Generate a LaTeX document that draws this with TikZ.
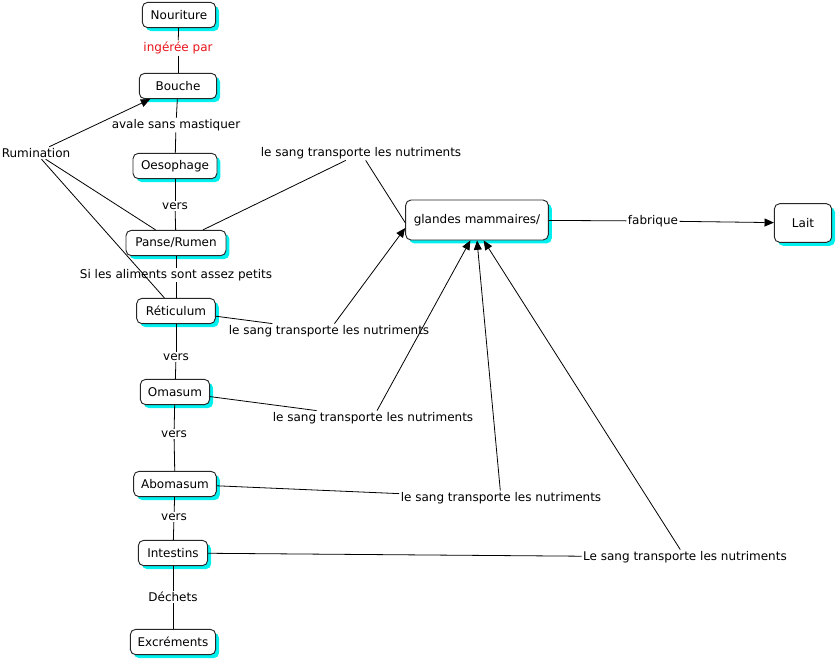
\documentclass[tikz,border=0pt]{standalone}
\usepackage{fontspec}
\setmainfont{DejaVu Sans}
\usepackage{xcolor}
\usepackage{tikz}
\usetikzlibrary{positioning,shadows,arrows.meta}
\definecolor{ShadowCyan}{HTML}{00F0F0}
\definecolor{LinkRed}{HTML}{E8141B}
\tikzset{
  concept/.style={draw=black!85,fill=white,rounded corners=4pt,line width=0.7pt,
    minimum height=19pt,inner xsep=5pt,
    font=\fontsize{9}{11}\selectfont,
    general shadow={fill=ShadowCyan,shadow xshift=2.6pt,shadow yshift=-2.6pt}},
  linkword/.style={fill=white,inner sep=1pt,font=\fontsize{9}{11}\selectfont},
  conn/.style={line width=0.6pt,draw=black},
  arr/.style={conn,-{Triangle[length=7pt,width=6pt]}},
}

\begin{document}
\begin{tikzpicture}[x=0.75pt,y=-0.75pt]
  \useasboundingbox (0,0) rectangle (839,661);
  % concepts
  \node[concept,minimum width=55pt] (nour) at (179,15) {Nouriture};
  \node[concept,minimum width=58pt] (bouche) at (178,86) {Bouche};
  \node[concept,minimum width=63pt] (oeso) at (175,166) {Oesophage};
  \node[concept,minimum width=75pt] (panse) at (176,243) {Panse/Rumen};
  \node[concept,minimum width=59pt] (reti) at (176,311) {Réticulum};
  \node[concept,minimum width=52pt] (omas) at (175,392) {Omasum};
  \node[concept,minimum width=62pt] (aboma) at (175,484) {Abomasum};
  \node[concept,minimum width=52pt] (intes) at (173,553) {Intestins};
  \node[concept,minimum width=64pt] (excr) at (173,642) {Excréments};
  \node[concept,minimum width=107pt,minimum height=30pt] (gland) at (477,220) {glandes mammaires/};
  \node[concept,minimum width=43pt,minimum height=29pt] (lait) at (803,223) {Lait};
  % linking phrases
  \node[linkword,text=LinkRed] (ingere) at (178,48) {ingérée par};
  \node[linkword] (avale) at (176,125) {avale sans mastiquer};
  \node[linkword] (vers1) at (175,206) {vers};
  \node[linkword] (petits) at (176,275) {Si les aliments sont assez petits};
  \node[linkword] (vers2) at (176,357) {vers};
  \node[linkword] (vers3) at (174,434) {vers};
  \node[linkword] (vers4) at (174,517) {vers};
  \node[linkword] (dechets) at (173,597) {Déchets};
  \node[linkword] (rumin) at (36,153) {Rumination};
  \node[linkword] (sang1) at (361,153) {le sang transporte les nutriments};
  \node[linkword] (sang2) at (329,331) {le sang transporte les nutriments};
  \node[linkword] (sang3) at (373,418) {le sang transporte les nutriments};
  \node[linkword] (sang4) at (501,498) {le sang transporte les nutriments};
  \node[linkword] (sang5) at (685,557) {Le sang transporte les nutriments};
  \node[linkword] (fabr) at (653,221) {fabrique};
  % digestive chain
  \draw[conn] (nour) -- (ingere);
  \draw[conn] (ingere) -- (bouche);
  \draw[conn] (bouche) -- (avale);
  \draw[conn] (avale) -- (oeso);
  \draw[conn] (oeso) -- (vers1);
  \draw[conn] (vers1) -- (panse);
  \draw[conn] (panse) -- (petits);
  \draw[conn] (petits) -- (reti);
  \draw[conn] (reti) -- (vers2);
  \draw[conn] (vers2) -- (omas);
  \draw[conn] (omas) -- (vers3);
  \draw[conn] (vers3) -- (aboma);
  \draw[conn] (aboma) -- (vers4);
  \draw[conn] (vers4) -- (intes);
  \draw[conn] (intes) -- (dechets);
  \draw[conn] (dechets) -- (excr);
  % rumination
  \draw[conn] (panse) -- (rumin);
  \draw[conn] (reti) -- (rumin);
  \draw[arr] (rumin) -- (bouche);
  % blood to the glands
  \draw[conn] (panse) -- (sang1);
  \draw[conn] (sang1) -- ([yshift=-2pt]gland.west);
  \draw[conn] (reti) -- (sang2);
  \draw[arr] (sang2) -- ([yshift=-6pt]gland.west);
  \draw[conn] (omas) -- (sang3);
  \draw[arr] (sang3) -- ([xshift=-5pt]gland.south);
  \draw[conn] (aboma) -- (sang4);
  \draw[arr] (sang4) -- ([xshift=0pt]gland.south);
  \draw[conn] (intes) -- (sang5);
  \draw[arr] (sang5) -- ([xshift=5pt]gland.south);
  \draw[conn] (gland) -- (fabr);
  \draw[arr] (fabr) -- (lait);
\end{tikzpicture}
\end{document}
